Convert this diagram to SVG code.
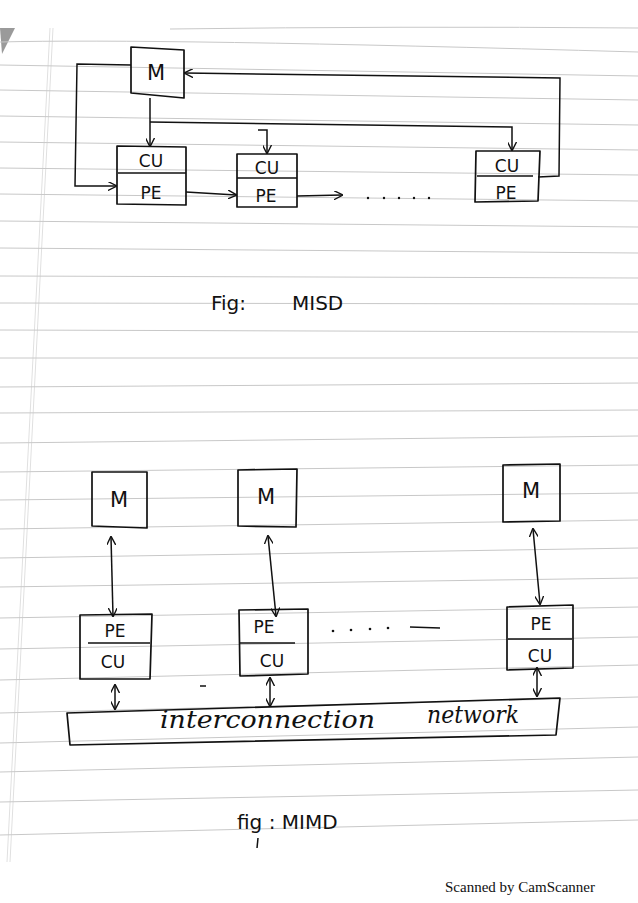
<svg xmlns="http://www.w3.org/2000/svg" width="638" height="903" viewBox="0 0 638 903">
<style>
.ruled{stroke:#c8c8c8;stroke-width:1;fill:none}
.margin{stroke:#e0e0e0;stroke-width:1;fill:none}
.box{fill:none;stroke:#111;stroke-width:1.7;stroke-linejoin:round}
.div{stroke:#111;stroke-width:1.5}
.ink{fill:#111;font-family:"DejaVu Sans","Liberation Sans",sans-serif}
.lbl{font-size:17px;text-anchor:middle}
.m{font-size:21px;text-anchor:middle}
.con{fill:none;stroke:#111;stroke-width:1.5}
.fig{font-size:20px}
.hand{font-size:25px;font-style:italic;font-family:"DejaVu Serif","Liberation Serif",serif}
</style>
<defs>
<marker id="ah" viewBox="0 0 10 10" refX="9" refY="5" markerWidth="9" markerHeight="9" orient="auto-start-reverse" markerUnits="userSpaceOnUse">
<path d="M0,0 L10,5 L0,10" fill="none" stroke="#111" stroke-width="1.5"/>
</marker>
</defs>
<rect width="638" height="903" fill="#ffffff"/>
<g id="paper">
<polygon points="0,28 15,28 2,54" fill="#9a9a9a"/>
<path class="margin" d="M53,28 L10,862 M50,28 L7,862"/>
<path class="ruled" d="M170,29 Q400,26 638,28"/>
<path class="ruled" d="M0,42 Q150,38 638,52"/>
<path class="ruled" d="M0,65 L638,76"/>
<path class="ruled" d="M0,90 L638,100"/>
<path class="ruled" d="M0,116 L638,125"/>
<path class="ruled" d="M0,142 L638,150"/>
<path class="ruled" d="M0,168 L638,175"/>
<path class="ruled" d="M0,194 L638,201"/>
<path class="ruled" d="M0,221 L638,227"/>
<path class="ruled" d="M0,248 L638,253"/>
<path class="ruled" d="M0,276 L638,278"/>
<path class="ruled" d="M0,303 L638,304"/>
<path class="ruled" d="M0,330 L638,332"/>
<path class="ruled" d="M0,358 L638,358"/>
<path class="ruled" d="M0,387 L638,383"/>
<path class="ruled" d="M0,413 L638,410"/>
<path class="ruled" d="M0,443 L638,436"/>
<path class="ruled" d="M0,472 L638,465"/>
<path class="ruled" d="M0,500 L638,493"/>
<path class="ruled" d="M0,529 L638,520"/>
<path class="ruled" d="M0,558 L638,548"/>
<path class="ruled" d="M0,587 L638,578"/>
<path class="ruled" d="M0,618 L638,607"/>
<path class="ruled" d="M0,649 L638,637"/>
<path class="ruled" d="M0,680 L638,665"/>
<path class="ruled" d="M0,713 L638,697"/>
<path class="ruled" d="M0,743 L638,727"/>
<path class="ruled" d="M0,772 L638,757"/>
<path class="ruled" d="M0,802 L638,790"/>
<path class="ruled" d="M0,835 L638,820"/>
</g>

<g id="misd-m">
<path class="box" d="M131,47 L184,50 L184,98 L131,93 Z"/>
<text class="ink m" x="156" y="80">M</text>
</g>
<g id="misd-pe1">
<path class="box" d="M117,146 L186,147 L186,205 L117,204 Z"/>
<line class="div" x1="118" y1="173" x2="186" y2="173"/>
<text class="ink lbl" x="151" y="167">CU</text>
<text class="ink lbl" x="151" y="199">PE</text>
</g>
<g id="misd-pe2">
<path class="box" d="M237,154 L297,154 L297,207 L237,207 Z"/>
<line class="div" x1="237" y1="178" x2="297" y2="178"/>
<text class="ink lbl" x="267" y="174">CU</text>
<text class="ink lbl" x="266" y="202">PE</text>
</g>
<g id="misd-pe3">
<path class="box" d="M476,151 L540,151 L538,201 L475,202 Z"/>
<line class="div" x1="477" y1="176" x2="533" y2="176"/>
<text class="ink lbl" x="507" y="172">CU</text>
<text class="ink lbl" x="506" y="199">PE</text>
</g>

<g id="mimd-m1">
<path class="box" d="M92,472 L147,472 L147,528 L92,526 Z"/>
<text class="ink m" x="119" y="507">M</text>
</g>
<g id="mimd-m2">
<path class="box" d="M238,470 L297,469 L296,527 L238,526 Z"/>
<text class="ink m" x="266" y="504">M</text>
</g>
<g id="mimd-m3">
<path class="box" d="M503,465 L560,464 L560,521 L503,522 Z"/>
<text class="ink m" x="531" y="498">M</text>
</g>
<g id="mimd-pe1">
<path class="box" d="M80,615 L152,614 L150,679 L80,679 Z"/>
<line class="div" x1="88" y1="643" x2="150" y2="643"/>
<text class="ink lbl" x="115" y="637">PE</text>
<text class="ink lbl" x="113" y="668">CU</text>
</g>
<g id="mimd-pe2">
<path class="box" d="M239,610 L308,609 L308,674 L240,676 Z"/>
<line class="div" x1="240" y1="643" x2="295" y2="643"/>
<text class="ink lbl" x="264" y="633">PE</text>
<text class="ink lbl" x="272" y="667">CU</text>
</g>
<g id="mimd-pe3">
<path class="box" d="M507,607 L573,605 L573,668 L507,670 Z"/>
<line class="div" x1="508" y1="639" x2="572" y2="639"/>
<text class="ink lbl" x="541" y="630">PE</text>
<text class="ink lbl" x="540" y="662">CU</text>
</g>
<g id="network">
<path class="box" d="M67,713 L560,698 L556,735 L70,745 Z"/>
<text class="ink hand" x="160" y="728" textLength="215" lengthAdjust="spacingAndGlyphs">interconnection</text>
<text class="ink hand" x="427" y="723" textLength="92" lengthAdjust="spacingAndGlyphs">network</text>
</g>

<g id="connectors">
<path class="con" d="M131,65 L77,64 L75,186 L116,186" marker-end="url(#ah)"/>
<path class="con" d="M538,177 L559,176 L560,78 L185,73" marker-end="url(#ah)"/>
<path class="con" d="M150,98 L150,146" marker-end="url(#ah)"/>
<path class="con" d="M150,122 L512,127 L512,150" marker-end="url(#ah)"/>
<path class="con" d="M258,130 L267,130 L267,153" marker-end="url(#ah)"/>
<path class="con" d="M186,192 L236,195" marker-end="url(#ah)"/>
<path class="con" d="M297,196 L342,195" marker-end="url(#ah)"/>
<g fill="#111">
<circle cx="368" cy="198" r="1.2"/><circle cx="384" cy="198" r="1.2"/><circle cx="399" cy="198" r="1.2"/><circle cx="414" cy="198" r="1.2"/><circle cx="429" cy="198" r="1.2"/>
<circle cx="333" cy="631" r="1.3"/><circle cx="351" cy="630" r="1.3"/><circle cx="370" cy="629" r="1.3"/><circle cx="388" cy="628" r="1.3"/>
</g>
<path class="con" d="M410,627 L440,628"/>
<path class="con" d="M200,686 L206,686"/>
<path class="con" d="M111,537 L113,616" marker-start="url(#ah)" marker-end="url(#ah)"/>
<path class="con" d="M268,536 L276,616" marker-start="url(#ah)" marker-end="url(#ah)"/>
<path class="con" d="M533,529 L540,604" marker-start="url(#ah)" marker-end="url(#ah)"/>
<path class="con" d="M115,685 L115,709" marker-start="url(#ah)" marker-end="url(#ah)"/>
<path class="con" d="M270,678 L270,706" marker-start="url(#ah)" marker-end="url(#ah)"/>
<path class="con" d="M537,668 L537,696" marker-start="url(#ah)" marker-end="url(#ah)"/>
</g>

<g id="captions">
<text class="ink fig" x="211" y="310">Fig:</text>
<text class="ink fig" x="292" y="310">MISD</text>
<text class="ink fig" x="237" y="829">fig : MIMD</text>
<path class="con" d="M258,838 L257,848" stroke-width="1"/>
<text x="445" y="892" font-family="Liberation Serif,serif" font-size="15" fill="#111">Scanned by CamScanner</text>
</g>
</svg>
